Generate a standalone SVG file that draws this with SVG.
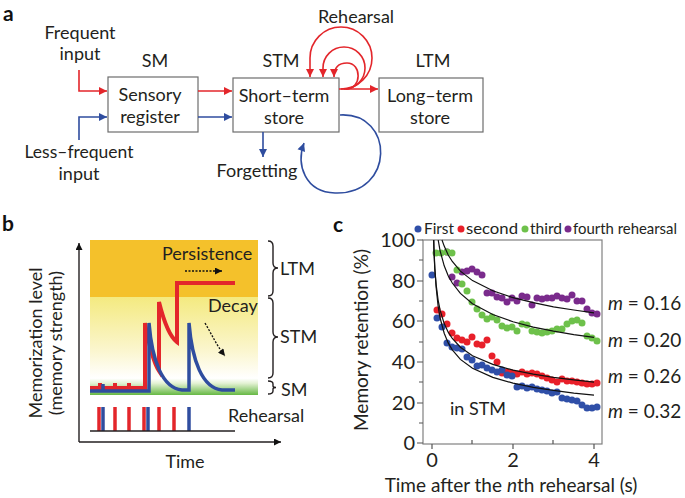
<svg xmlns="http://www.w3.org/2000/svg" width="685" height="498" viewBox="0 0 685 498">
<style>
.t{font-family:Lato,"Liberation Sans",sans-serif;font-size:18px;fill:#231f20}
.m{text-anchor:middle}
.e{text-anchor:end}
.lg{font-size:15px}
.pl{font-family:Lato,"Liberation Sans",sans-serif;font-size:21px;font-weight:bold;fill:#111}
.box{fill:#fff;stroke:#6d6d6d;stroke-width:1.2}
.rl{fill:none;stroke:#e3262b;stroke-width:1.6}
.bl{fill:none;stroke:#2f4d9f;stroke-width:1.6}
.k{fill:none;stroke:#231f20;stroke-width:1.4}
.fit{fill:none;stroke:#111;stroke-width:1.2}
.db{fill:#2f4fa8}.dr{fill:#e8202a}.dg{fill:#6ec14b}.dp{fill:#7a2b8c}
.rb{stroke:#e3262b;stroke-width:3.5}
.bb{stroke:#2f4d9f;stroke-width:3.5}
</style>
<defs>
<marker id="mr" viewBox="0 0 10 10" refX="10" refY="5" markerWidth="9" markerHeight="8" markerUnits="userSpaceOnUse" orient="auto"><path d="M0,0 L10,5 L0,10 z" fill="#e3262b"/></marker>
<marker id="mb" viewBox="0 0 10 10" refX="10" refY="5" markerWidth="9" markerHeight="8" markerUnits="userSpaceOnUse" orient="auto"><path d="M0,0 L10,5 L0,10 z" fill="#2f4d9f"/></marker>
<marker id="mk" viewBox="0 0 10 10" refX="10" refY="5" markerWidth="9" markerHeight="7" markerUnits="userSpaceOnUse" orient="auto"><path d="M0,0 L10,5 L0,10 z" fill="#111"/></marker>
<linearGradient id="gy" x1="0" y1="0" x2="0" y2="1">
<stop offset="0" stop-color="#f4ea80"/>
<stop offset="0.55" stop-color="#fbf6cf"/>
<stop offset="0.83" stop-color="#ffffff"/>
<stop offset="0.88" stop-color="#e4f2d4"/>
<stop offset="1" stop-color="#66b844"/>
</linearGradient>
</defs>

<!-- Panel a -->
<text class="pl" x="3" y="21">a</text>
<text class="t m" x="80" y="39">Frequent</text>
<text class="t m" x="80" y="60">input</text>
<text class="t m" x="79" y="158" textLength="109" lengthAdjust="spacingAndGlyphs">Less–frequent</text>
<text class="t m" x="79" y="180">input</text>
<text class="t m" x="155" y="67">SM</text>
<text class="t m" x="281" y="67">STM</text>
<text class="t m" x="433" y="67">LTM</text>
<text class="t m" x="356" y="23">Rehearsal</text>
<text class="t m" x="257" y="177">Forgetting</text>

<g id="sensory">
<rect class="box" x="108" y="77" width="90" height="55"/>
<text class="t m" x="150" y="101">Sensory</text>
<text class="t m" x="150" y="123">register</text>
</g>
<g id="stm">
<rect class="box" x="233" y="78" width="106" height="54"/>
<text class="t m" x="284" y="102">Short–term</text>
<text class="t m" x="284" y="124">store</text>
</g>
<g id="ltm">
<rect class="box" x="379" y="78" width="104" height="54"/>
<text class="t m" x="430" y="102">Long–term</text>
<text class="t m" x="430" y="124">store</text>
</g>

<g id="connectors">
<path class="rl" d="M79,70 V91 H107" marker-end="url(#mr)"/>
<path class="bl" d="M79,140 V117 H107" marker-end="url(#mb)"/>
<path class="rl" d="M198,91 H232" marker-end="url(#mr)"/>
<path class="bl" d="M198,117 H232" marker-end="url(#mb)"/>
<path class="rl" d="M339,89 H378" marker-end="url(#mr)"/>
<path class="rl" d="M341,89 A31,31 0 1 0 310,58 V77" marker-end="url(#mr)"/>
<path class="rl" d="M344,89 A21,21 0 1 0 323,68 V77" marker-end="url(#mr)"/>
<path class="rl" d="M346,89 C362,89 362,63 347,63 C338,63 334,68 334,77" marker-end="url(#mr)"/>
<path class="bl" d="M263,132 V157" marker-end="url(#mb)"/>
<path class="bl" d="M340,115 C395,112 395,195 335,193 C305,192 296,165 304,143" marker-end="url(#mb)"/>
</g>

<!-- Panel b -->
<text class="pl" x="2" y="231">b</text>
<rect x="90" y="240" width="168" height="57" fill="#f4c12b"/>
<rect x="90" y="297" width="168" height="98" fill="url(#gy)"/>
<path class="k" d="M79,442 V243" marker-end="url(#mk)"/>
<path class="k" d="M79,442 H281" marker-end="url(#mk)"/>
<text class="t m" transform="translate(42,343) rotate(-90)">Memorization level</text>
<text class="t m" transform="translate(62,343) rotate(-90)">(memory strength)</text>
<text class="t m" x="185" y="468">Time</text>
<text class="t" x="162" y="260">Persistence</text>
<path d="M185,271 H222" fill="none" stroke="#111" stroke-width="1.3" stroke-dasharray="2,1.5" marker-end="url(#mk)"/>
<text class="t" x="208" y="312">Decay</text>
<path d="M205,323 C212,335 217,346 225,356" fill="none" stroke="#111" stroke-width="1.3" stroke-dasharray="2,1.5" marker-end="url(#mk)"/>
<path fill="none" stroke="#e3262b" stroke-width="4" d="M90,388 H100 V383 V388 H115 V383 V388 H129 V383 V388 H145 V323 C149,345 153,362 159,371 V302 C164,322 170,337 177,342 V283 H235"/>
<path fill="none" stroke="#2f4d9f" stroke-width="3.5" d="M90,391 H103 V384 V391 H149 V323 C152,360 162,388 182,390 H189 V323 C192,360 202,388 222,390 H235"/>
<path class="k" d="M268,241 Q273,241 273,246 V263 Q273,268 278,268 Q273,268 273,273 V291 Q273,296 268,296"/>
<path class="k" d="M268,298 Q273,298 273,303 V332 Q273,337 278,337 Q273,337 273,342 V373 Q273,378 268,378"/>
<path class="k" d="M268,381 Q273,381 273,384 V386 Q273,387.5 276,387.5 Q273,387.5 273,389 V391 Q273,394 268,394"/>
<text class="t" x="280" y="275">LTM</text>
<text class="t" x="280" y="343">STM</text>
<text class="t" x="281" y="396">SM</text>
<g>
<line class="rb" x1="99" y1="407" x2="99" y2="431"/>
<line class="bb" x1="103" y1="407" x2="103" y2="431"/>
<line class="rb" x1="115" y1="407" x2="115" y2="431"/>
<line class="rb" x1="129" y1="407" x2="129" y2="431"/>
<line class="rb" x1="144" y1="407" x2="144" y2="431"/>
<line class="bb" x1="148" y1="407" x2="148" y2="431"/>
<line class="rb" x1="159" y1="407" x2="159" y2="431"/>
<line class="rb" x1="174" y1="407" x2="174" y2="431"/>
<line class="bb" x1="189" y1="407" x2="189" y2="431"/>
</g>
<line x1="90" y1="431" x2="235" y2="431" stroke="#231f20" stroke-width="1.6"/>
<text class="t" x="228" y="422">Rehearsal</text>

<!-- Panel c -->
<text class="pl" x="333" y="232">c</text>
<rect x="423" y="240" width="179" height="204" fill="none" stroke="#808080" stroke-width="1.2"/>
<path stroke="#555" stroke-width="1.2" d="M417,240 H423 M417,281 H423 M417,321 H423 M417,362 H423 M417,403 H423 M417,443 H423 M419,260 H423 M419,301 H423 M419,342 H423 M419,382 H423 M419,423 H423 M432,444 V449 M513,444 V449 M594,444 V449 M472,444 V440 M553,444 V440"/>
<text class="t e" x="415" y="247" style="font-size:20px">100</text>
<text class="t e" x="415" y="288" style="font-size:20px">80</text>
<text class="t e" x="415" y="328" style="font-size:20px">60</text>
<text class="t e" x="415" y="369" style="font-size:20px">40</text>
<text class="t e" x="415" y="410" style="font-size:20px">20</text>
<text class="t e" x="415" y="450" style="font-size:20px">0</text>
<text class="t m" x="432" y="467" style="font-size:20px">0</text>
<text class="t m" x="513" y="467" style="font-size:20px">2</text>
<text class="t m" x="594" y="467" style="font-size:20px">4</text>
<text class="t m" transform="translate(368,340) rotate(-90)" style="font-size:19px">Memory retention (%)</text>
<text class="t m" x="511" y="492" style="font-size:19px">Time after the <tspan font-style="italic">n</tspan>th rehearsal (s)</text>
<text class="t" x="450" y="415">in STM</text>
<text class="t" x="608" y="310" style="font-size:19px"><tspan font-style="italic">m</tspan> = 0.16</text>
<text class="t" x="608" y="347" style="font-size:19px"><tspan font-style="italic">m</tspan> = 0.20</text>
<text class="t" x="608" y="383" style="font-size:19px"><tspan font-style="italic">m</tspan> = 0.26</text>
<text class="t" x="608" y="418" style="font-size:19px"><tspan font-style="italic">m</tspan> = 0.32</text>
<circle class="db" cx="418" cy="229" r="3.5"/><text class="t lg" x="424" y="234" textLength="30" lengthAdjust="spacingAndGlyphs">First</text>
<circle class="dr" cx="461" cy="229" r="3.5"/><text class="t lg" x="466" y="234" textLength="52" lengthAdjust="spacingAndGlyphs">second</text>
<circle class="dg" cx="525" cy="229" r="3.5"/><text class="t lg" x="530" y="234" textLength="32" lengthAdjust="spacingAndGlyphs">third</text>
<circle class="dp" cx="568" cy="229" r="3.5"/><text class="t lg" x="573" y="234" textLength="104" lengthAdjust="spacingAndGlyphs">fourth rehearsal</text>

<g class="dp">
<circle cx="447" cy="252" r="3.5"/><circle cx="452" cy="277" r="3.5"/><circle cx="457" cy="283" r="3.5"/><circle cx="462" cy="272" r="3.5"/><circle cx="467" cy="271" r="3.5"/><circle cx="472" cy="269" r="3.5"/><circle cx="477" cy="272" r="3.5"/><circle cx="482" cy="275" r="3.5"/><circle cx="487" cy="293" r="3.5"/><circle cx="492" cy="293" r="3.5"/><circle cx="497" cy="297" r="3.5"/><circle cx="502" cy="298" r="3.5"/><circle cx="507" cy="302" r="3.5"/><circle cx="512" cy="298" r="3.5"/><circle cx="517" cy="301" r="3.5"/><circle cx="522" cy="296" r="3.5"/><circle cx="527" cy="297" r="3.5"/><circle cx="532" cy="305" r="3.5"/><circle cx="537" cy="298" r="3.5"/><circle cx="542" cy="299" r="3.5"/><circle cx="547" cy="298" r="3.5"/><circle cx="552" cy="298" r="3.5"/><circle cx="557" cy="296" r="3.5"/><circle cx="562" cy="298" r="3.5"/><circle cx="567" cy="299" r="3.5"/><circle cx="572" cy="295" r="3.5"/><circle cx="577" cy="301" r="3.5"/><circle cx="582" cy="301" r="3.5"/><circle cx="587" cy="309" r="3.5"/><circle cx="592" cy="313" r="3.5"/><circle cx="597" cy="314" r="3.5"/>
</g>
<g class="dg">
<circle cx="436" cy="253" r="3.5"/><circle cx="441" cy="253" r="3.5"/><circle cx="447" cy="252" r="3.5"/><circle cx="452" cy="253" r="3.5"/><circle cx="457" cy="270" r="3.5"/><circle cx="462" cy="284" r="3.5"/><circle cx="467" cy="291" r="3.5"/><circle cx="472" cy="302" r="3.5"/><circle cx="477" cy="309" r="3.5"/><circle cx="482" cy="315" r="3.5"/><circle cx="487" cy="319" r="3.5"/><circle cx="492" cy="317" r="3.5"/><circle cx="497" cy="320" r="3.5"/><circle cx="502" cy="326" r="3.5"/><circle cx="507" cy="328" r="3.5"/><circle cx="512" cy="327" r="3.5"/><circle cx="517" cy="331" r="3.5"/><circle cx="522" cy="324" r="3.5"/><circle cx="527" cy="325" r="3.5"/><circle cx="532" cy="331" r="3.5"/><circle cx="537" cy="332" r="3.5"/><circle cx="542" cy="333" r="3.5"/><circle cx="547" cy="332" r="3.5"/><circle cx="552" cy="331" r="3.5"/><circle cx="557" cy="329" r="3.5"/><circle cx="562" cy="329" r="3.5"/><circle cx="567" cy="324" r="3.5"/><circle cx="572" cy="321" r="3.5"/><circle cx="577" cy="320" r="3.5"/><circle cx="582" cy="323" r="3.5"/><circle cx="587" cy="336" r="3.5"/><circle cx="592" cy="338" r="3.5"/><circle cx="597" cy="341" r="3.5"/>
</g>
<g class="dr">
<circle cx="437" cy="310" r="3.5"/><circle cx="442" cy="314" r="3.5"/><circle cx="447" cy="324" r="3.5"/><circle cx="452" cy="333" r="3.5"/><circle cx="457" cy="338" r="3.5"/><circle cx="462" cy="340" r="3.5"/><circle cx="467" cy="342" r="3.5"/><circle cx="472" cy="337" r="3.5"/><circle cx="477" cy="344" r="3.5"/><circle cx="482" cy="345" r="3.5"/><circle cx="487" cy="340" r="3.5"/><circle cx="492" cy="356" r="3.5"/><circle cx="497" cy="362" r="3.5"/><circle cx="502" cy="373" r="3.5"/><circle cx="507" cy="372" r="3.5"/><circle cx="512" cy="373" r="3.5"/><circle cx="517" cy="374" r="3.5"/><circle cx="522" cy="372" r="3.5"/><circle cx="527" cy="374" r="3.5"/><circle cx="532" cy="373" r="3.5"/><circle cx="537" cy="374" r="3.5"/><circle cx="542" cy="376" r="3.5"/><circle cx="547" cy="378" r="3.5"/><circle cx="552" cy="380" r="3.5"/><circle cx="557" cy="382" r="3.5"/><circle cx="562" cy="379" r="3.5"/><circle cx="567" cy="381" r="3.5"/><circle cx="572" cy="381" r="3.5"/><circle cx="577" cy="382" r="3.5"/><circle cx="582" cy="383" r="3.5"/><circle cx="587" cy="384" r="3.5"/><circle cx="592" cy="384" r="3.5"/><circle cx="597" cy="383" r="3.5"/>
</g>
<g class="db">
<circle cx="432" cy="275" r="3.5"/><circle cx="437" cy="318" r="3.5"/><circle cx="442" cy="327" r="3.5"/><circle cx="447" cy="343" r="3.5"/><circle cx="452" cy="347" r="3.5"/><circle cx="457" cy="348" r="3.5"/><circle cx="462" cy="349" r="3.5"/><circle cx="467" cy="357" r="3.5"/><circle cx="472" cy="360" r="3.5"/><circle cx="477" cy="366" r="3.5"/><circle cx="482" cy="365" r="3.5"/><circle cx="487" cy="368" r="3.5"/><circle cx="492" cy="370" r="3.5"/><circle cx="497" cy="372" r="3.5"/><circle cx="502" cy="370" r="3.5"/><circle cx="507" cy="375" r="3.5"/><circle cx="512" cy="376" r="3.5"/><circle cx="517" cy="387" r="3.5"/><circle cx="522" cy="386" r="3.5"/><circle cx="527" cy="388" r="3.5"/><circle cx="532" cy="387" r="3.5"/><circle cx="537" cy="389" r="3.5"/><circle cx="542" cy="390" r="3.5"/><circle cx="547" cy="391" r="3.5"/><circle cx="552" cy="393" r="3.5"/><circle cx="557" cy="392" r="3.5"/><circle cx="562" cy="398" r="3.5"/><circle cx="567" cy="399" r="3.5"/><circle cx="572" cy="400" r="3.5"/><circle cx="577" cy="401" r="3.5"/><circle cx="582" cy="405" r="3.5"/><circle cx="587" cy="408" r="3.5"/><circle cx="592" cy="408" r="3.5"/><circle cx="597" cy="407" r="3.5"/>
</g>
<polyline class="fit" points="442,240 444.2,246.1 448.2,255 452.3,261.5 460.4,271.1 472.5,280.6 492.8,290.8 513,297.7 533.3,302.7 553.5,306.8 573.8,310 594,312.9"/>
<polyline class="fit" points="438.2,240 440.1,250.8 444.2,265.8 448.2,275.7 452.3,283 460.4,293.4 472.5,303.7 492.8,314.5 513,321.8 533.3,327.1 553.5,331.1 573.8,334.6 594,337.4"/>
<polyline class="fit" points="433.6,240 434,252.8 434.8,268.8 436.1,284.3 438.1,300.1 440.1,310.2 444.2,323.6 448.2,332.2 452.3,338.5 460.4,347.2 472.5,355.7 492.8,364.4 513,370.1 533.3,374.2 553.5,377.4 573.8,379.9 594,382.1"/>
<polyline class="fit" points="433.8,240 434,248.1 434.8,268 436.1,286.9 438.1,306 440.1,318 444.2,333.2 448.2,342.9 452.3,349.8 460.4,359.4 472.5,368.3 492.8,377.4 513,383.1 533.3,387.4 553.5,390.4 573.8,393.1 594,395.1"/>
</svg>
